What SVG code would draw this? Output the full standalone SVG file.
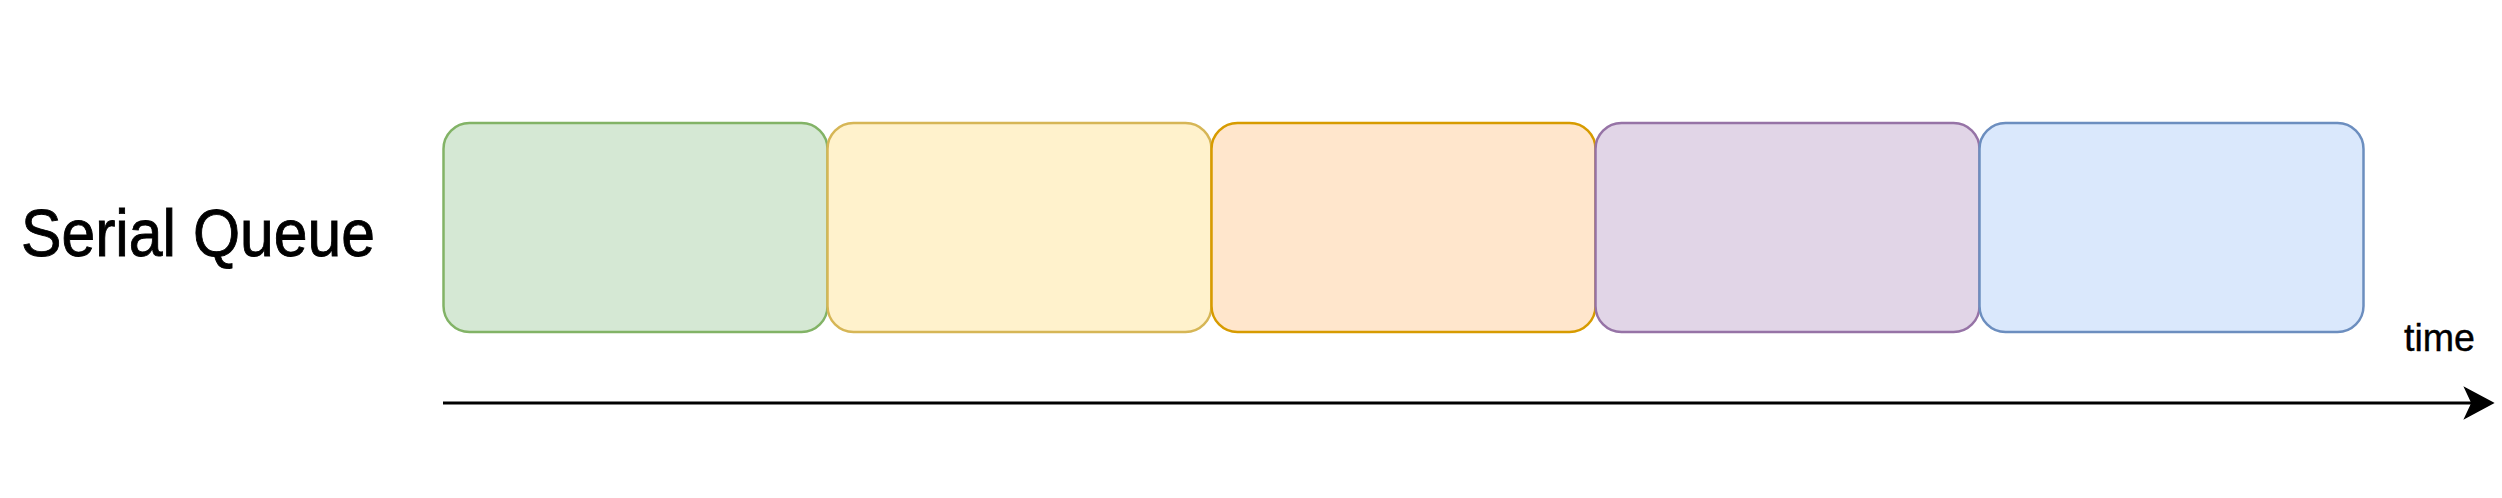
<svg xmlns="http://www.w3.org/2000/svg" width="2502" height="498" viewBox="0 0 2502 498">
<style>
.box{stroke-width:2.5}
.lbl{font-family:"Liberation Sans",Arial,Helvetica,sans-serif;fill:#000;stroke:#000;stroke-width:0.9}
</style>
<defs>
<marker id="arr" markerUnits="userSpaceOnUse" markerWidth="30" markerHeight="34" refX="7" refY="16" orient="auto" viewBox="0 0 30 34" overflow="visible">
<path d="M28 16 L0 1 L7 16 L0 31 Z" fill="#000" stroke="#000" stroke-width="1.5" stroke-linejoin="miter"/>
</marker>
</defs>
<rect width="2502" height="498" fill="#fff"/>
<g id="label">
<text class="lbl" x="21" y="256" font-size="66" textLength="354" lengthAdjust="spacingAndGlyphs">Serial Queue</text>
</g>
<g id="task1"><rect class="box" x="443.5" y="123" width="384" height="209" rx="26" ry="26" fill="#d5e8d4" stroke="#82b366"/></g>
<g id="task2"><rect class="box" x="827.5" y="123" width="384" height="209" rx="26" ry="26" fill="#fff2cc" stroke="#d6b656"/></g>
<g id="task3"><rect class="box" x="1211.5" y="123" width="384" height="209" rx="26" ry="26" fill="#ffe6cc" stroke="#d79b00"/></g>
<g id="task4"><rect class="box" x="1595.5" y="123" width="384" height="209" rx="26" ry="26" fill="#e1d5e7" stroke="#9673a6"/></g>
<g id="task5"><rect class="box" x="1979.5" y="123" width="384" height="209" rx="26" ry="26" fill="#dae8fc" stroke="#6c8ebf"/></g>
<g id="connectors">
<line x1="443" y1="403" x2="2472" y2="403" stroke="#000" stroke-width="3" marker-end="url(#arr)"/>
</g>
<g id="time-label">
<text class="lbl" x="2404" y="351" font-size="39" textLength="71" lengthAdjust="spacingAndGlyphs" style="stroke-width:0.4">time</text>
</g>
</svg>
